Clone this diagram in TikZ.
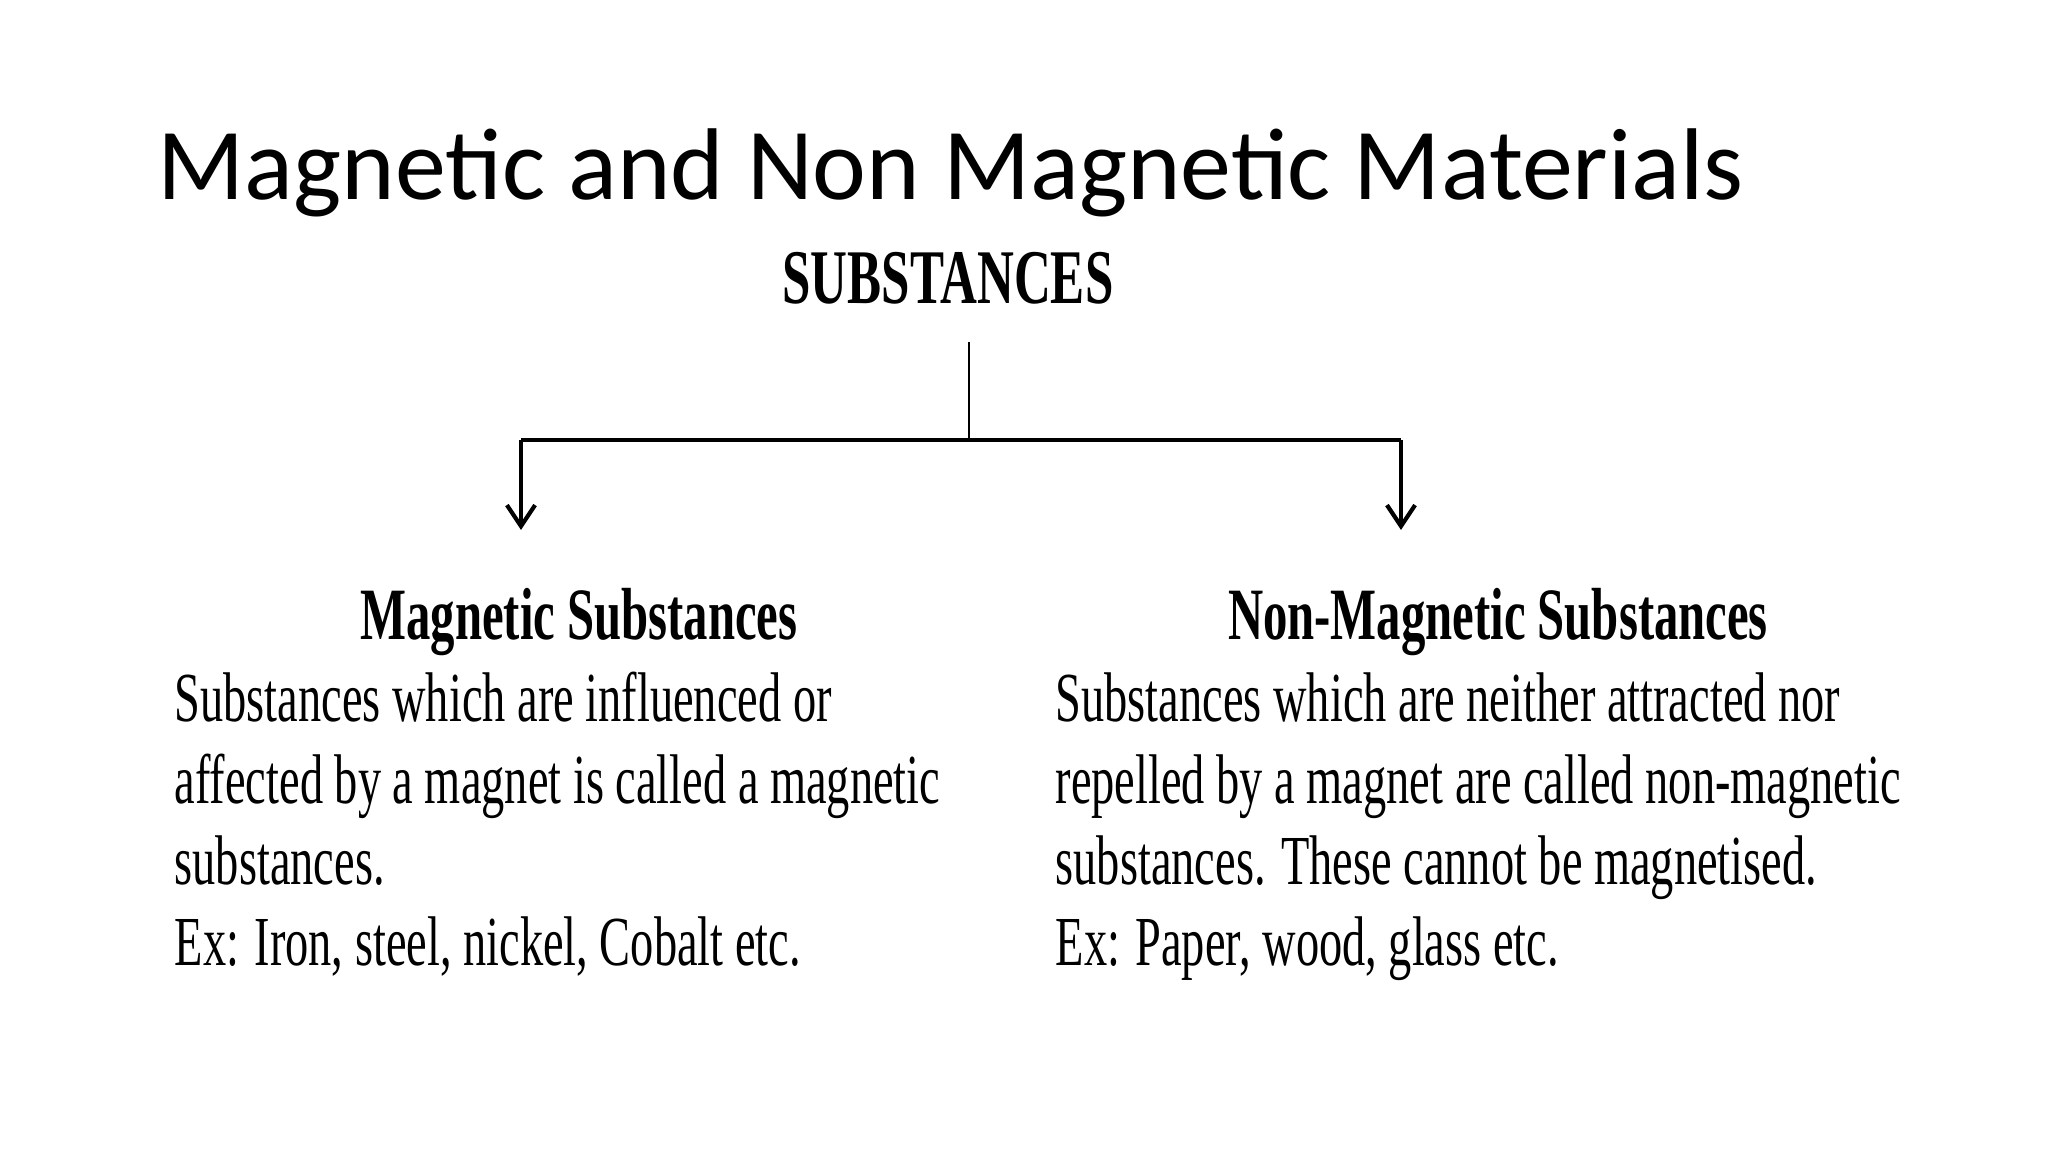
\documentclass[tikz,border=0pt]{standalone}
\usepackage{fontspec}
\setmainfont{Liberation Serif}
\newfontfamily\titlefont{Carlito}
\newfontfamily\nar[FakeStretch=0.66]{Liberation Serif}
\usetikzlibrary{arrows.meta}
\tikzset{
  body/.style={anchor=base west,inner sep=0pt,font=\nar\fontsize{20}{24}\selectfont},
  head/.style={anchor=base,inner sep=0pt,font=\nar\bfseries\fontsize{21}{24}\selectfont},
  conn/.style={line width=1.2pt},
  arr/.style={line width=1.2pt,-{Straight Barb[length=6pt,width=8pt]}}
}
\begin{document}
\begin{tikzpicture}[x=1cm,y=1cm]
\useasboundingbox (0,0) rectangle (20.48,11.52);
\node[anchor=base west,inner sep=0pt,font=\titlefont\fontsize{29}{34}\selectfont] (title) at (1.57,9.52) {Magnetic and Non Magnetic Materials};
\node[head,font=\nar\bfseries\fontsize{22}{24}\selectfont] (sub) at (9.48,8.48) {SUBSTANCES};
\coordinate (top) at (9.69,8.10);
\coordinate (mid) at (9.69,7.12);
\coordinate (l) at (5.21,7.12);
\coordinate (r) at (14.01,7.12);
\coordinate (la) at (5.21,6.22);
\coordinate (ra) at (14.01,6.22);
\draw[line width=0.8pt] (top) -- (mid);
\draw[conn] (l) -- (r);
\draw[arr] (l) -- (la);
\draw[arr] (r) -- (ra);
\node[head] (mh) at (5.79,5.12) {Magnetic Substances};
\node[head] (nh) at (14.98,5.12) {Non-Magnetic Substances};
\node[body] (m1) at (1.74,4.30) {Substances which are influenced or};
\node[body] (m2) at (1.74,3.48) {affected by a magnet is called a magnetic};
\node[body] (m3) at (1.74,2.67) {substances.};
\node[body] (m4) at (1.74,1.86) {Ex: Iron, steel, nickel, Cobalt etc.};
\node[body] (n1) at (10.55,4.30) {Substances which are neither attracted nor};
\node[body] (n2) at (10.55,3.48) {repelled by a magnet are called non-magnetic};
\node[body] (n3) at (10.55,2.67) {substances. These cannot be magnetised.};
\node[body] (n4) at (10.55,1.86) {Ex: Paper, wood, glass etc.};
\end{tikzpicture}
\end{document}
